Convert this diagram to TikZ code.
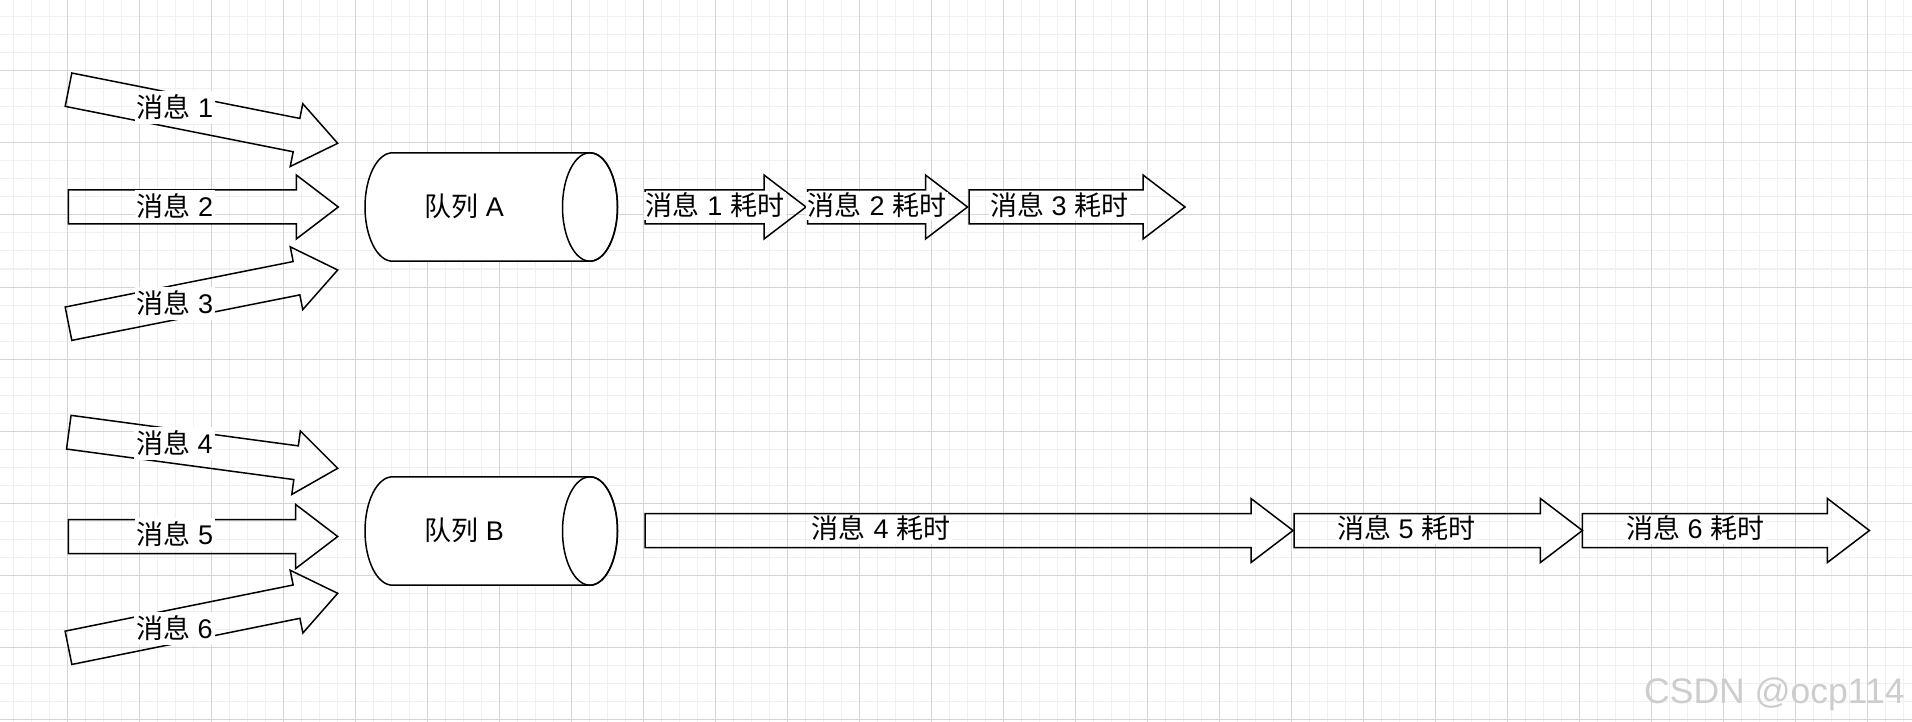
\documentclass[tikz,border=0pt]{standalone}
\usepackage{fontspec}
\setmainfont{Liberation Sans}
\newfontfamily\cjk{Noto Sans CJK SC}
\usetikzlibrary{calc}
\definecolor{gridminor}{RGB}{240,240,240}
\definecolor{gridmajor}{RGB}{212,212,212}
\definecolor{wmgray}{RGB}{205,205,205}
\newcommand\flexarr[2]{%
  \coordinate (#1#2b) at ($(#2)!42pt!(#1)$);
  \draw[flexline] ($(#1)!17pt!90:(#2)$) -- ($(#1#2b)!17pt!90:(#2)$) -- ($(#1#2b)!32pt!90:(#2)$) -- (#2)
     -- ($(#1#2b)!32pt!-90:(#2)$) -- ($(#1#2b)!17pt!-90:(#2)$) -- ($(#1)!17pt!-90:(#2)$) -- cycle;
}
\newcommand\drawcyl[1]{%
  \fill[white] ($(#1)+(27.5,-54.2)$) -- ($(#1)+(225,-54.2)$) arc[start angle=90,end angle=-90,x radius=27.5pt,y radius=54.2pt]
     -- ($(#1)+(27.5,54.2)$) arc[start angle=270,end angle=90,x radius=27.5pt,y radius=54.2pt] -- cycle;
  \draw[cylline] ($(#1)+(27.5,-54.2)$) -- ($(#1)+(225,-54.2)$) arc[start angle=90,end angle=-90,x radius=27.5pt,y radius=54.2pt]
     -- ($(#1)+(27.5,54.2)$) arc[start angle=270,end angle=90,x radius=27.5pt,y radius=54.2pt] -- cycle;
  \draw[cylline] ($(#1)+(225,0)$) ellipse[x radius=27.5pt,y radius=54.2pt];
}
\tikzset{
  flexline/.style={draw=black, line width=1.5pt, line join=miter},
  cylline/.style={draw=black, line width=1.5pt},
  lab/.style={fill=white, inner xsep=2pt, inner ysep=2.5pt, text height=24pt, text depth=4pt,
              font=\fontsize{27}{30}\selectfont},
  tlab/.style={fill=white, inner xsep=1.5pt, inner ysep=2pt, text height=21.5pt, text depth=3pt,
              font=\fontsize{27}{30}\selectfont},
  qlab/.style={inner sep=2pt, font=\fontsize{27}{30}\selectfont},
  minorline/.style={draw=gridminor, line width=1pt},
  majorline/.style={draw=gridmajor, line width=1pt}
}
\begin{document}
\begin{tikzpicture}[x=1pt,y=-1pt]
\useasboundingbox (0,0) rectangle (1912,722);
\fill[white] (0,0) rectangle (1912,722);
% grid
\foreach \gx in {13,31,...,1912} \draw[minorline] (\gx,0) -- (\gx,722);
\foreach \gy in {17,35,...,722} \draw[minorline] (0,\gy) -- (1912,\gy);
\foreach \gx in {67,139,...,1912} \draw[majorline] (\gx,0) -- (\gx,722);
\foreach \gy in {71,143,...,722} \draw[majorline] (0,\gy) -- (1912,\gy);

% tails and tips of the incoming arrows
\coordinate (t1) at (68.5,89.7);   \coordinate (h1) at (337.7,143.3);
\coordinate (t2) at (68.3,207);    \coordinate (h2) at (338.3,207);
\coordinate (t3) at (68.5,323.7);  \coordinate (h3) at (337.7,270);
\coordinate (t4) at (68.8,432.2);  \coordinate (h4) at (337.7,468.3);
\coordinate (t5) at (68.3,536.5);  \coordinate (h5) at (337.7,536.5);
\coordinate (t6) at (68.5,647.8);  \coordinate (h6) at (337.7,593.3);
% queue origins
\coordinate (qa0) at (365,207);
\coordinate (qb0) at (365,531);
% processing arrows
\coordinate (a0) at (645,207);
\coordinate (a1) at (806,207);
\coordinate (a1s) at (807.5,207);
\coordinate (a2) at (967.5,207);
\coordinate (a2s) at (969,207);
\coordinate (a3) at (1185,207);
\coordinate (b0) at (645,530.5);
\coordinate (b1) at (1293,530.5);
\coordinate (b1s) at (1294,530.5);
\coordinate (b2) at (1582.4,530.5);
\coordinate (b3) at (1869.4,530.5);

\flexarr{t1}{h1}
\flexarr{t2}{h2}
\flexarr{t3}{h3}
\flexarr{t4}{h4}
\flexarr{t5}{h5}
\flexarr{t6}{h6}

\drawcyl{qa0}
\drawcyl{qb0}

\flexarr{a0}{a1}
\flexarr{a1s}{a2}
\flexarr{a2s}{a3}
\flexarr{b0}{b1}
\flexarr{b1s}{b2}
\flexarr{b2}{b3}

% labels
\node[lab] (m1) at (175,107.5) {{\cjk 消息} 1};
\node[lab] (m2) at (175,207) {{\cjk 消息} 2};
\node[lab] (m3) at (175,303) {{\cjk 消息} 3};
\node[lab] (m4) at (174.5,443) {{\cjk 消息} 4};
\node[lab] (m5) at (175,534) {{\cjk 消息} 5};
\node[lab] (m6) at (174.5,628) {{\cjk 消息} 6};

\node[qlab] (qa) at (464,206) {{\cjk 队列} A};
\node[qlab] (qb) at (464,530.5) {{\cjk 队列} B};

\node[tlab] (c1) at (715,206) {{\cjk 消息} 1 {\cjk 耗时}};
\node[tlab] (c2) at (877,206) {{\cjk 消息} 2 {\cjk 耗时}};
\node[tlab] (c3) at (1059,206) {{\cjk 消息} 3 {\cjk 耗时}};
\node[tlab] (c4) at (881,529.5) {{\cjk 消息} 4 {\cjk 耗时}};
\node[tlab] (c5) at (1406,529.5) {{\cjk 消息} 5 {\cjk 耗时}};
\node[tlab] (c6) at (1695,529.5) {{\cjk 消息} 6 {\cjk 耗时}};

\node[anchor=base west, inner sep=0pt, text=wmgray, font=\fontsize{35.5}{40}\selectfont] (wm) at (1644,703) {CSDN @ocp114};
\end{tikzpicture}
\end{document}
